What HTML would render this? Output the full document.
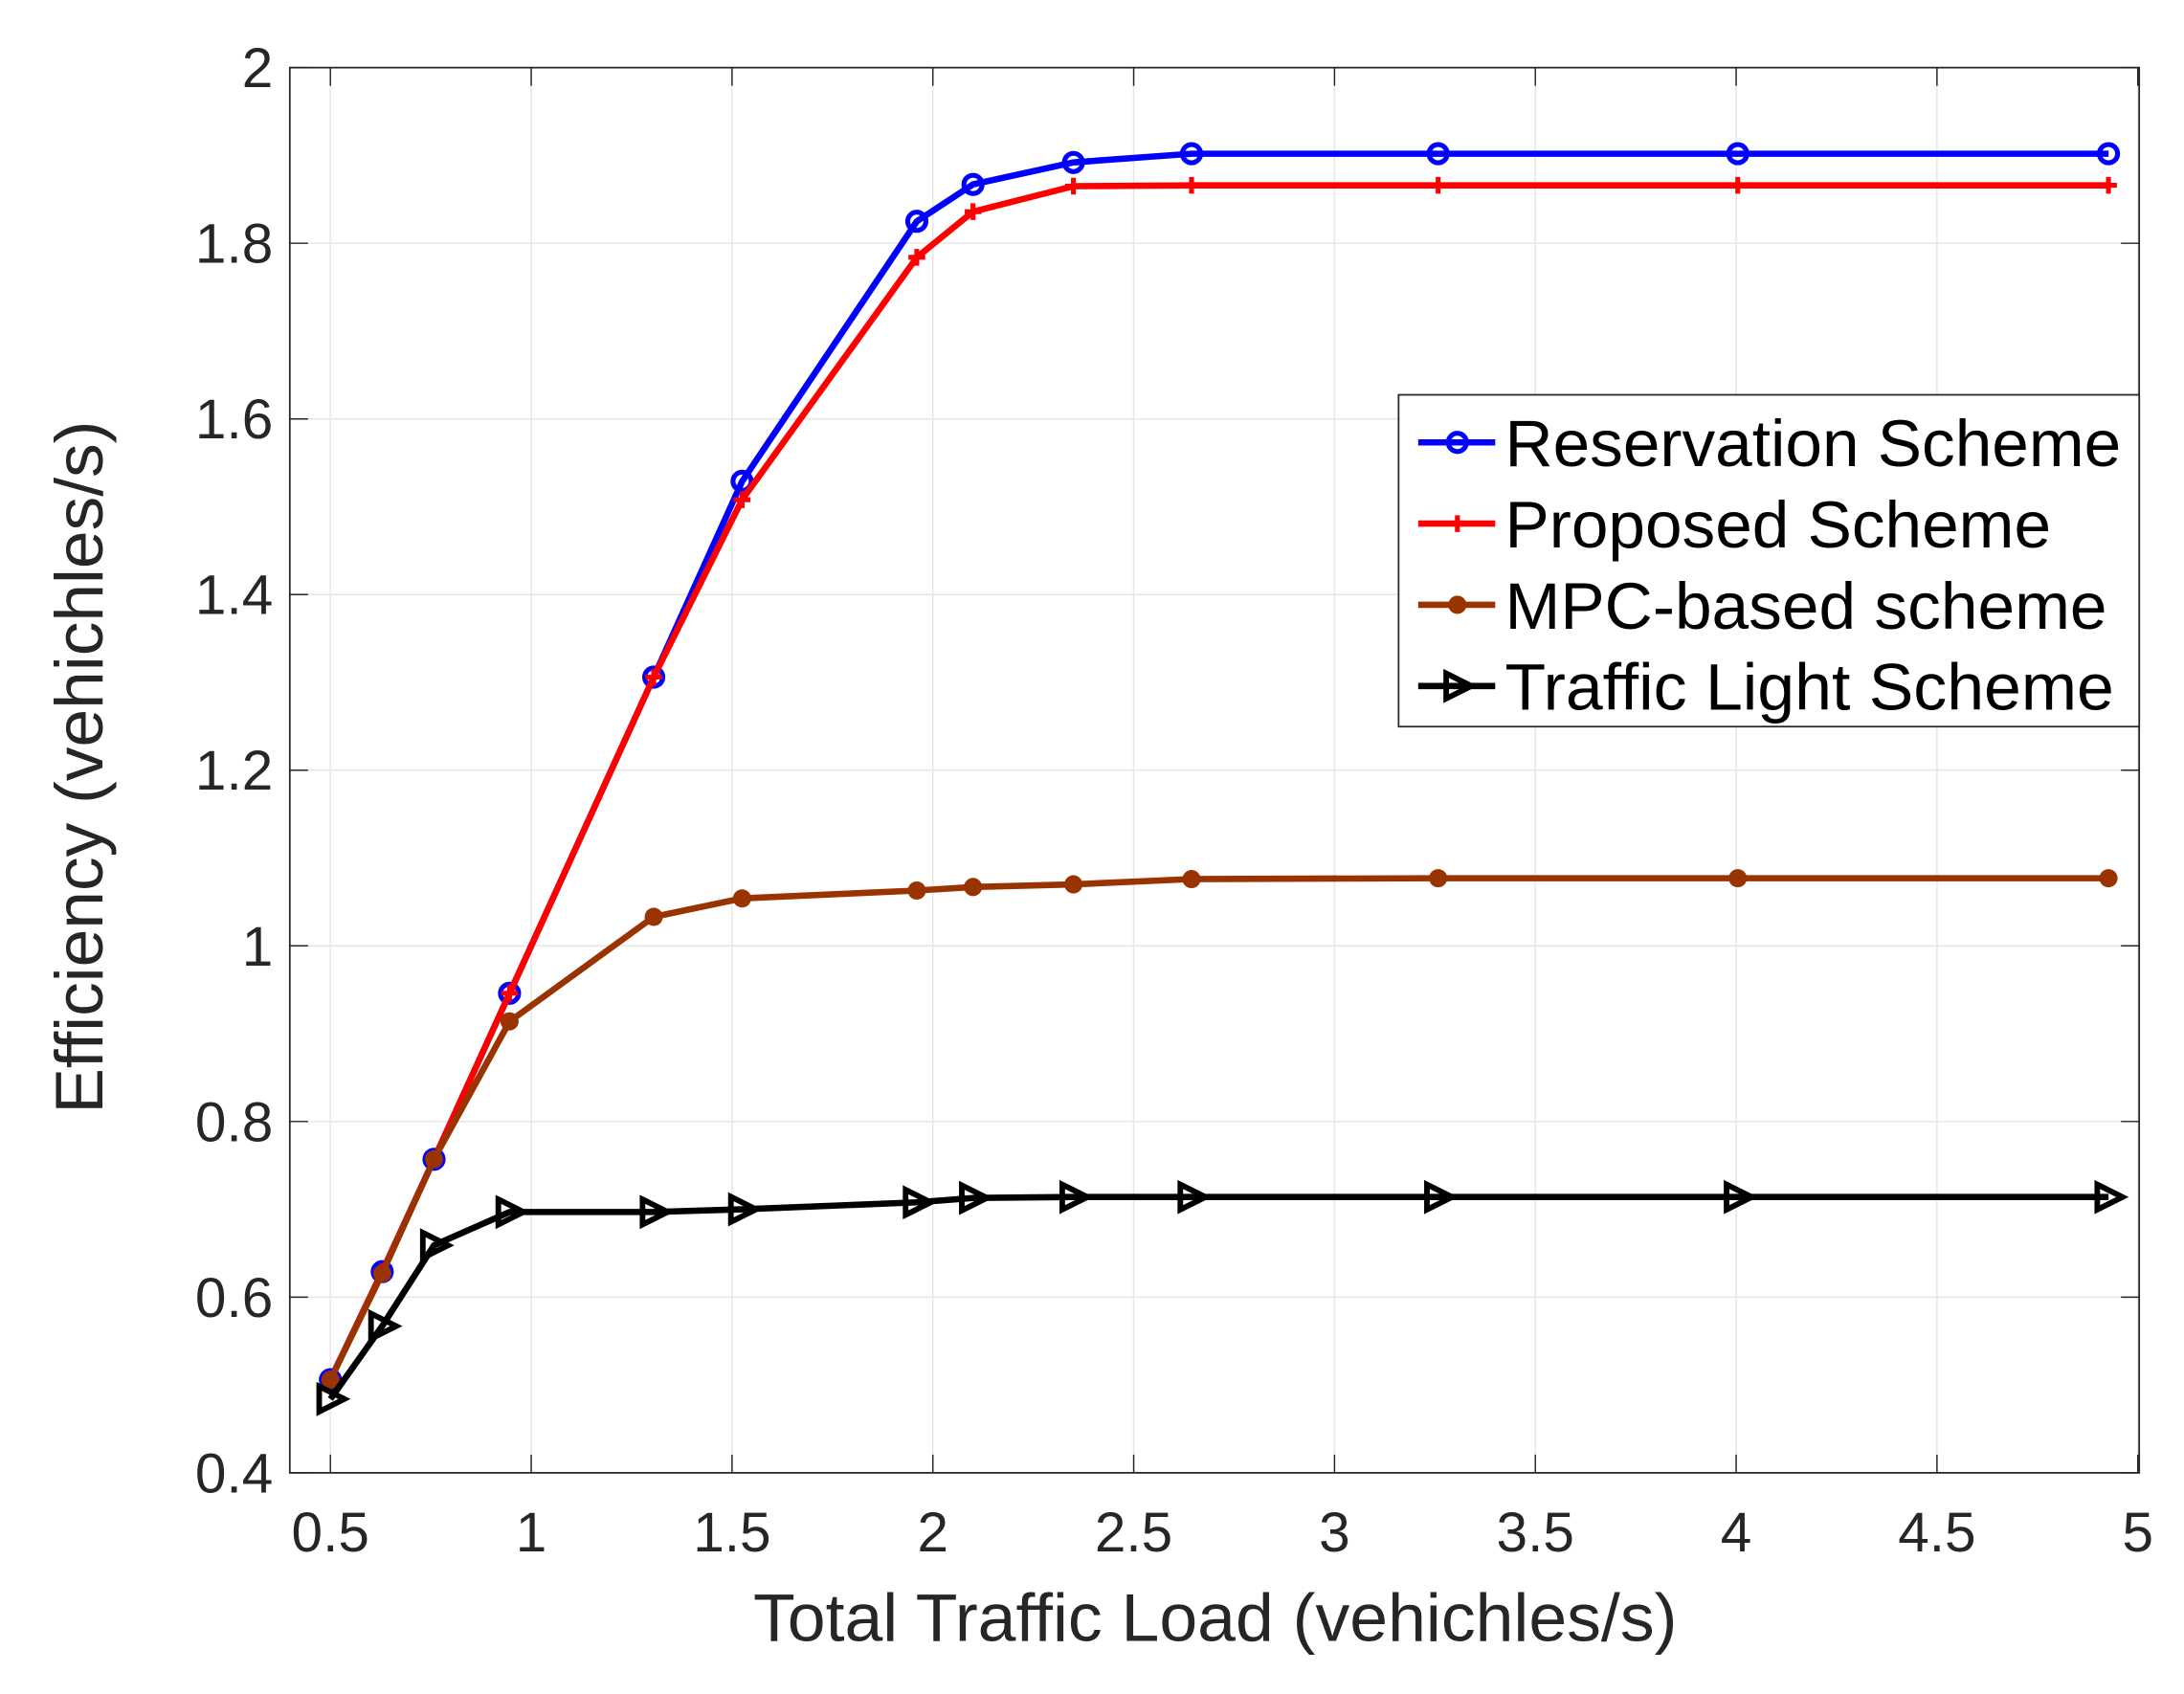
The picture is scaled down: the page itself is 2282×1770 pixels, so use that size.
<!DOCTYPE html>
<html><head><meta charset="utf-8"><style>
html,body{margin:0;padding:0;background:#fff;}
svg{display:block;}
text{font-family:"Liberation Sans",Arial,sans-serif;fill:#262626;}
</style></head><body>
<svg id="s" width="2282" height="1770" viewBox="0 0 1560 1210" preserveAspectRatio="none" xmlns="http://www.w3.org/2000/svg"></svg>
<script>
const s=document.getElementById('s');
const L=207,R=1528,T=48.3,B=1052;
const X=v=>236+(v-0.5)*(1527-236)/4.5;
const Y=v=>T+(2-v)*(B-T)/1.6;
let h='';
h+=`<rect x="${L}" y="${T}" width="${R-L}" height="${B-T}" fill="#fff"/>`;
for(let v=0.5;v<=5.001;v+=0.5){const x=X(v);h+=`<line x1="${x}" y1="${T}" x2="${x}" y2="${B}" stroke="#e6e6e6" stroke-width="1"/>`;
h+=`<line x1="${x}" y1="${B}" x2="${x}" y2="${B-13}" stroke="#262626" stroke-width="1"/><line x1="${x}" y1="${T}" x2="${x}" y2="${T+13}" stroke="#262626" stroke-width="1"/>`;
h+=`<text x="${x}" y="${B+56}" font-size="40" text-anchor="middle">${+v.toFixed(1)}</text>`;}
for(let i=0;i<=8;i++){const v=0.4+i*0.2;const y=Y(v);h+=`<line x1="${L}" y1="${y}" x2="${R}" y2="${y}" stroke="#e6e6e6" stroke-width="1"/>`;
h+=`<line x1="${L}" y1="${y}" x2="${L+13}" y2="${y}" stroke="#262626" stroke-width="1"/><line x1="${R}" y1="${y}" x2="${R-13}" y2="${y}" stroke="#262626" stroke-width="1"/>`;
let lab=(Math.round(v*10)/10).toString();h+=`<text x="${L-12}" y="${y+14}" font-size="40" text-anchor="end">${lab}</text>`;}
h+=`<rect x="${L}" y="${T}" width="${R-L}" height="${B-T}" fill="none" stroke="#262626" stroke-width="1.2"/>`;
const xs=[0.5,0.629,0.758,0.946,1.305,1.525,1.96,2.1,2.35,2.644,3.258,4.004,4.927];
const S=[
{c:'#0000ff',m:'o',d:[0.506,0.629,0.757,0.946,1.306,1.529,1.825,1.867,1.892,1.902,1.902,1.902,1.902]},
{c:'#ff0000',m:'+',d:[0.506,0.629,0.757,0.946,1.306,1.508,1.784,1.836,1.865,1.866,1.866,1.866,1.866]},
{c:'#993300',m:'.',d:[0.506,0.627,0.757,0.914,1.033,1.054,1.063,1.067,1.070,1.076,1.077,1.077,1.077]},
{c:'#000000',m:'>',d:[0.484,0.567,0.659,0.697,0.697,0.700,0.708,0.713,0.714,0.714,0.714,0.714,0.714]}];
function mk(m,c,x,y){
 if(m=='o')return `<circle cx="${x}" cy="${y}" r="6.5" fill="none" stroke="${c}" stroke-width="3.5"/>`;
 if(m=='+')return `<path d="M${x-6} ${y}H${x+6}M${x} ${y-6}V${y+6}" stroke="${c}" stroke-width="3.5"/>`;
 if(m=='.')return `<circle cx="${x}" cy="${y}" r="6.5" fill="${c}"/>`;
 return `<path d="M${x-8} ${y-9}L${x+10} ${y}L${x-8} ${y+9}Z" fill="none" stroke="${c}" stroke-width="4" stroke-linejoin="miter"/>`;}
S.forEach(o=>{let p=xs.map((x,i)=>X(x).toFixed(1)+','+Y(o.d[i]).toFixed(1)).join(' ');
h+=`<polyline points="${p}" fill="none" stroke="${o.c}" stroke-width="4.5" stroke-linejoin="round"/>`;
xs.forEach((x,i)=>h+=mk(o.m,o.c,X(x),Y(o.d[i])));});
h+=`<rect x="999" y="282" width="529" height="237" fill="#fff" stroke="#262626" stroke-width="1.2"/>`;
const names=['Reservation Scheme','Proposed Scheme','MPC-based scheme','Traffic Light Scheme'];
const tl=[440,390,430,435];
S.forEach((o,i)=>{const y=316+i*58;h+=`<line x1="1013" y1="${y}" x2="1068" y2="${y}" stroke="${o.c}" stroke-width="4.5"/>`+mk(o.m,o.c,1041,y);
h+=`<text x="1075" y="${y+17}" font-size="47" textLength="${tl[i]}" lengthAdjust="spacingAndGlyphs" style="fill:#000">${names[i]}</text>`;});
h+=`<text x="868" y="1172" font-size="48" text-anchor="middle" textLength="660" lengthAdjust="spacingAndGlyphs">Total Traffic Load (vehichles/s)</text>`;
h+=`<text transform="translate(73,548) rotate(-90)" font-size="48" text-anchor="middle" textLength="495" lengthAdjust="spacingAndGlyphs">Efficiency (vehichles/s)</text>`;
s.innerHTML=h;
</script>
</body></html>
